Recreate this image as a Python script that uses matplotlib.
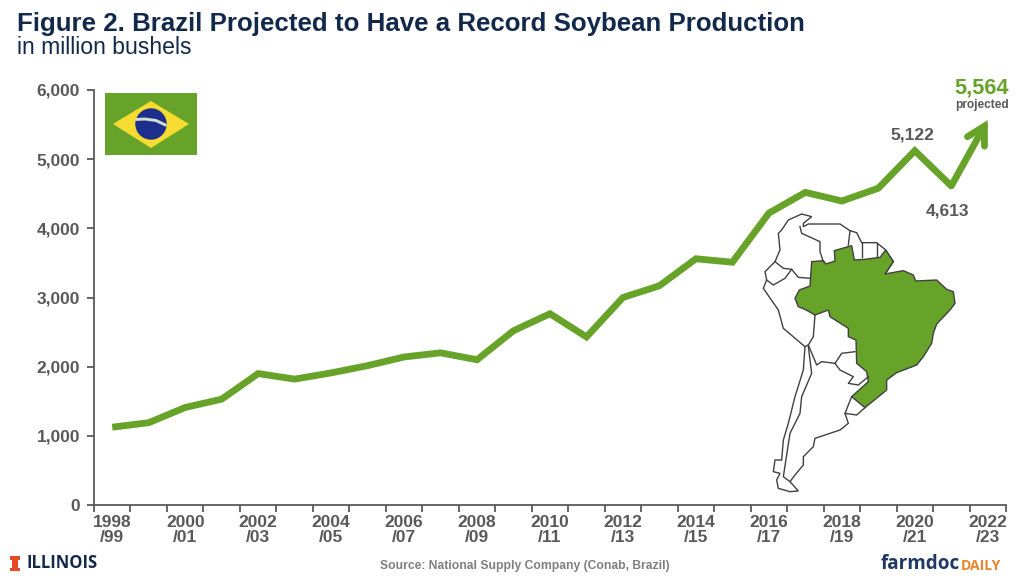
import matplotlib
matplotlib.use('Agg')
import matplotlib.pyplot as plt
from matplotlib.patches import Polygon, Rectangle, Circle

plt.rcParams['font.family'] = ['Liberation Sans', 'DejaVu Sans']

# === data ===
YEARS_TOP = ["1998", "2000", "2002", "2004", "2006", "2008", "2010", "2012",
             "2014", "2016", "2018", "2020", "2022"]
YEARS_BOTTOM = ["/99", "/01", "/03", "/05", "/07", "/09", "/11", "/13",
                "/15", "/17", "/19", "/21", "/23"]
production = [1125, 1190, 1410, 1530, 1900, 1820, 1910, 2015, 2140, 2200, 2100, 2520,
              2765, 2430, 3000, 3170, 3560, 3510, 4220, 4520, 4395, 4580, 5122, 4613, 5564]
y_ticks = [0, 1000, 2000, 3000, 4000, 5000, 6000]

# map outlines (zoom crop coordinates)
brazil = [(165, 295), (178, 270), (210, 258), (215, 185), (250, 182), (258, 192), (285, 183),
          (283, 152), (335, 137), (343, 180), (375, 178), (420, 172), (437, 150), (460, 185),
          (435, 222), (490, 212), (520, 225), (527, 243), (590, 240), (620, 268), (640, 275),
          (645, 310), (630, 330), (590, 372), (580, 400), (575, 430), (550, 470), (530, 495),
          (470, 518), (440, 540), (440, 570), (375, 623), (335, 590), (385, 545), (380, 515),
          (350, 490), (348, 420), (325, 410), (325, 385), (270, 350), (265, 330), (225, 345),
          (195, 328), (175, 320)]
continent = [(125, 90), (145, 60), (185, 42), (215, 50), (190, 70), (190, 80), (205, 72),
             (235, 72), (300, 72), (330, 92), (350, 98), (365, 128), (410, 128), (437, 150),
             (460, 185), (435, 222), (375, 623), (350, 645), (315, 640), (325, 670), (300, 690),
             (225, 715), (220, 740), (190, 770), (190, 795), (165, 825), (150, 845), (175, 873),
             (150, 875), (115, 865), (110, 840), (120, 820), (100, 815), (105, 780), (125, 780),
             (130, 720), (145, 670), (165, 590), (190, 510), (195, 440), (130, 385), (115, 330),
             (70, 265), (80, 240), (75, 215), (105, 185), (120, 150), (115, 100)]
borders = [
    [(180, 80), (185, 100), (240, 125), (240, 155), (250, 185)],
    [(330, 92), (325, 135)],
    [(365, 128), (365, 170)],
    [(410, 130), (410, 172)],
    [(105, 185), (130, 205), (155, 208), (175, 232), (210, 235)],
    [(80, 240), (100, 255), (135, 235), (155, 208)],
    [(225, 345), (220, 410), (205, 435), (195, 440)],
    [(205, 435), (230, 495), (245, 485), (285, 490)],
    [(285, 490), (305, 460), (345, 455)],
    [(285, 490), (300, 510), (340, 530), (325, 550), (355, 555), (385, 530)],
    [(205, 440), (215, 520), (185, 590), (180, 640), (150, 700), (130, 830), (150, 845)],
    [(335, 590), (315, 640)],
]

GREEN = "#67a329"
GREY = "#595959"
NAVY = "#13294b"


def to_px(pts):
    # zoom crop was 3x, starting at (740, 200)
    return [(x / 3 + 740, y / 3 + 200) for x, y in pts]


fig = plt.figure(figsize=(10.24, 5.76), dpi=100)
fig.patch.set_facecolor("white")

# === main chart ===
ax = fig.add_axes([94 / 1024, 1 - 505 / 576, 912 / 1024, 415 / 576])
x = list(range(len(production)))
ax.plot(x[:-1], production[:-1], color=GREEN, lw=4.9, solid_joinstyle="miter", solid_capstyle="butt")
ax.annotate("", xy=(x[-1], production[-1]), xytext=(x[-2], production[-2]),
            arrowprops=dict(arrowstyle="->,head_length=1.25,head_width=0.7", color=GREEN, lw=4.9,
                            shrinkA=0, shrinkB=0, joinstyle="miter", capstyle="round"))

ax.set_xlim(-0.5, 24.5)
ax.set_ylim(0, 6000)
ax.set_yticks(y_ticks)
ax.set_yticklabels([f"{v:,}" for v in y_ticks])
ax.set_xticks(x[::2])
ax.set_xticklabels([f"{a}\n{b}" for a, b in zip(YEARS_TOP, YEARS_BOTTOM)], linespacing=1.0)
ax.set_xticks([i - 0.5 for i in range(len(production) + 1)], minor=True)
ax.tick_params(axis="x", which="major", length=0, pad=7, labelcolor=GREY, labelsize=12.5)
ax.tick_params(axis="x", which="minor", length=5, width=1.3, color=GREY)
ax.tick_params(axis="y", length=5, width=1.3, color=GREY, labelcolor=GREY, labelsize=12.5, pad=5)
for label in ax.get_xticklabels() + ax.get_yticklabels():
    label.set_fontweight("bold")
for side in ["top", "right"]:
    ax.spines[side].set_visible(False)
for side in ["left", "bottom"]:
    ax.spines[side].set_color(GREY)
    ax.spines[side].set_linewidth(1.3)

ax.text(x[22] - 0.08, production[22] + 115, "5,122", ha="center", va="bottom", color=GREY,
        fontsize=12.5, fontweight="bold")
ax.text(x[23] - 0.1, production[23] - 250, "4,613", ha="center", va="top", color=GREY,
        fontsize=12.5, fontweight="bold")

# === overlay in pixel coordinates ===
ov = fig.add_axes([0, 0, 1, 1], zorder=5)
ov.set_xlim(0, 1024)
ov.set_ylim(576, 0)
ov.axis("off")

ov.text(17, 24, "Figure 2. Brazil Projected to Have a Record Soybean Production", color=NAVY,
        fontsize=18.65, fontweight="bold", va="center", ha="left")
ov.text(17, 48, "in million bushels", color=NAVY, fontsize=16.6, va="center", ha="left")

ov.text(1009, 88, "5,564", color=GREEN, fontsize=15.7, fontweight="bold", ha="right", va="center")
ov.text(1009, 105, "projected", color=GREY, fontsize=8.6, fontweight="bold", ha="right", va="center")

# flag
ov.add_patch(Rectangle((105, 93), 92, 62, facecolor=GREEN, edgecolor="none"))
ov.add_patch(Polygon([(113, 124), (151, 101), (189, 124), (151, 148)], facecolor="#f6dc30", edgecolor="none"))
ov.add_patch(Circle((151, 124), 15.7, facecolor="#1d2f8c", edgecolor="none"))
ov.plot([135.5, 145, 156, 166.5], [119.5, 119, 120.5, 125.5], color="#d5dfd0", lw=2.1, solid_capstyle="butt")

# map
ov.add_patch(Polygon(to_px(continent), closed=True, facecolor="white", edgecolor="#404040", lw=1.0))
ov.add_patch(Polygon(to_px(brazil), closed=True, facecolor=GREEN, edgecolor="#404040", lw=1.0))
for line in borders:
    pts = to_px(line)
    ov.plot([p[0] for p in pts], [p[1] for p in pts], color="#404040", lw=1.0)

# footer
ov.text(525, 566, "Source: National Supply Company (Conab, Brazil)", color="#7f7f7f", fontsize=8.7,
        fontweight="bold", ha="center", va="center")
ov.add_patch(Polygon([(9.5, 556), (20, 556), (20, 559.5), (17.5, 559.5), (17.5, 567.5), (20, 567.5), (20, 571),
                      (9.5, 571), (9.5, 567.5), (12, 567.5), (12, 559.5), (9.5, 559.5)],
                     closed=True, facecolor="#e84a27", edgecolor="none"))
ov.text(27, 563.5, "ILLINOIS", color=NAVY, fontsize=12, fontweight="bold", ha="left", va="center",
        family=["Open Sans", "DejaVu Sans"])
ov.text(881, 564, "farmdoc", color="#1f3864", fontsize=13.6, fontweight="bold", ha="left", va="center",
        family=["Open Sans", "DejaVu Sans"])
ov.text(961, 566, "DAILY", color="#e8852b", fontsize=10, fontweight="bold", ha="left", va="center",
        family=["Open Sans", "DejaVu Sans"])

fig.savefig("out.png", dpi=100)
